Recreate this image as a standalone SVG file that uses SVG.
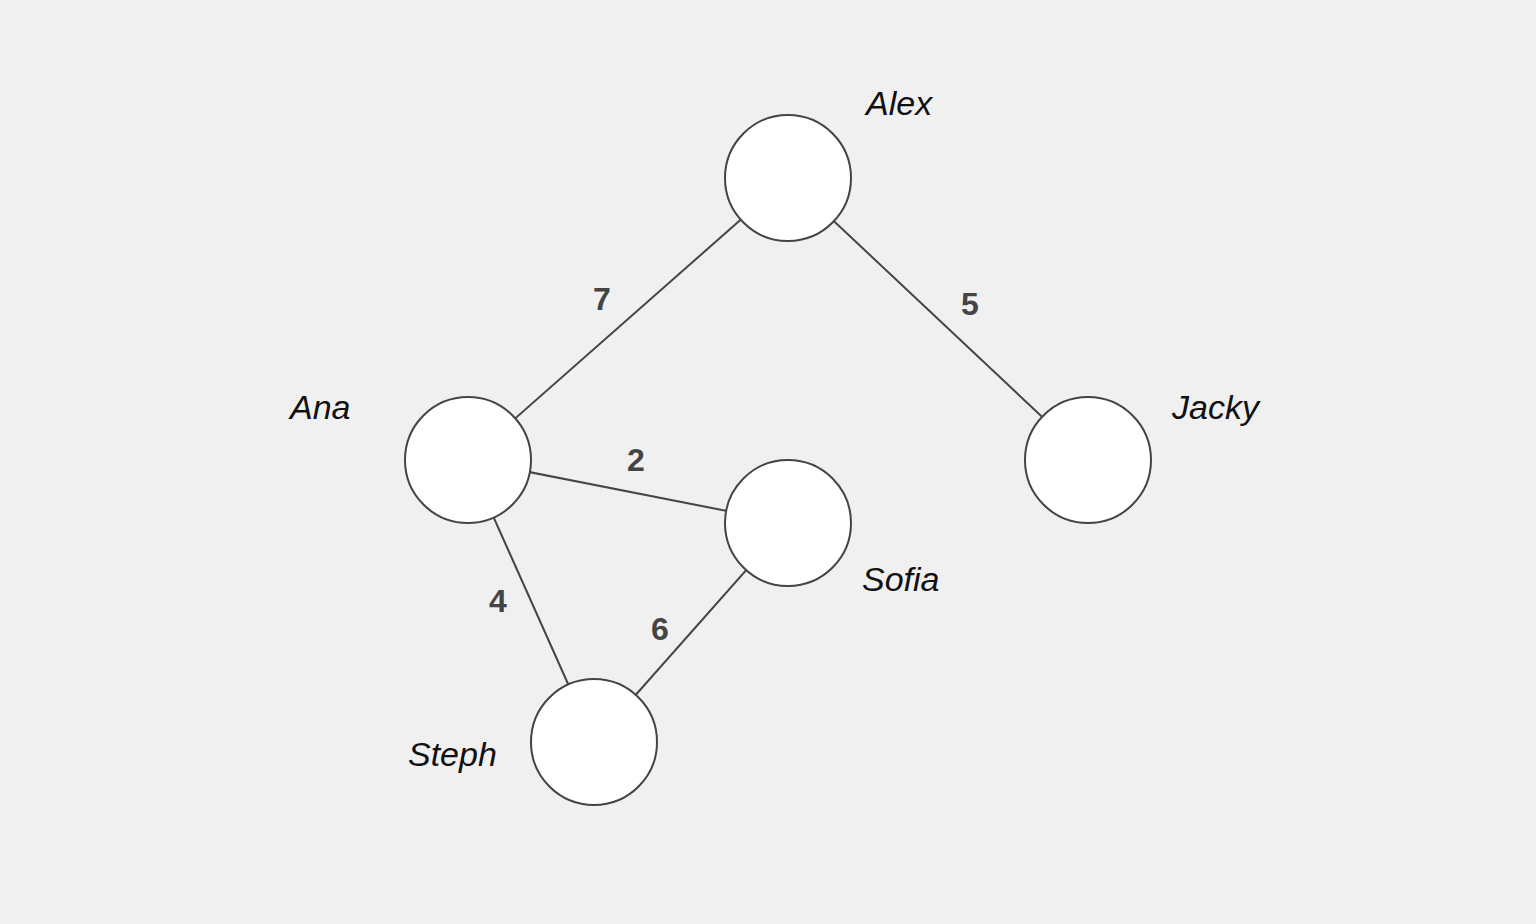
<svg xmlns="http://www.w3.org/2000/svg" width="1536" height="924" viewBox="0 0 1536 924">
<style>
.n{fill:#fff;stroke:#444;stroke-width:2}
.e{stroke:#444;stroke-width:2}
.t{font-family:"Liberation Sans",sans-serif;font-style:italic;font-size:34px;fill:#111}
.w{font-family:"Liberation Sans",sans-serif;font-weight:bold;font-size:32px;fill:#444;text-anchor:middle}
</style>
<rect width="1536" height="924" fill="#f0f0f0"/>
<g id="connectors">
<line class="e" x1="788" y1="178" x2="468" y2="460"/>
<line class="e" x1="788" y1="178" x2="1088" y2="460"/>
<line class="e" x1="468" y1="460" x2="788" y2="523"/>
<line class="e" x1="468" y1="460" x2="594" y2="742"/>
<line class="e" x1="788" y1="523" x2="594" y2="742"/>
<text class="w" x="602" y="310">7</text>
<text class="w" x="970" y="315">5</text>
<text class="w" x="636" y="471">2</text>
<text class="w" x="498" y="612">4</text>
<text class="w" x="660" y="640">6</text>
</g>
<g id="alex"><circle class="n" cx="788" cy="178" r="63"/><text class="t" x="866" y="115">Alex</text></g>
<g id="ana"><circle class="n" cx="468" cy="460" r="63"/><text class="t" x="290" y="419">Ana</text></g>
<g id="sofia"><circle class="n" cx="788" cy="523" r="63"/><text class="t" x="862" y="591">Sofia</text></g>
<g id="jacky"><circle class="n" cx="1088" cy="460" r="63"/><text class="t" x="1172" y="419">Jacky</text></g>
<g id="steph"><circle class="n" cx="594" cy="742" r="63"/><text class="t" x="408" y="766">Steph</text></g>
</svg>
